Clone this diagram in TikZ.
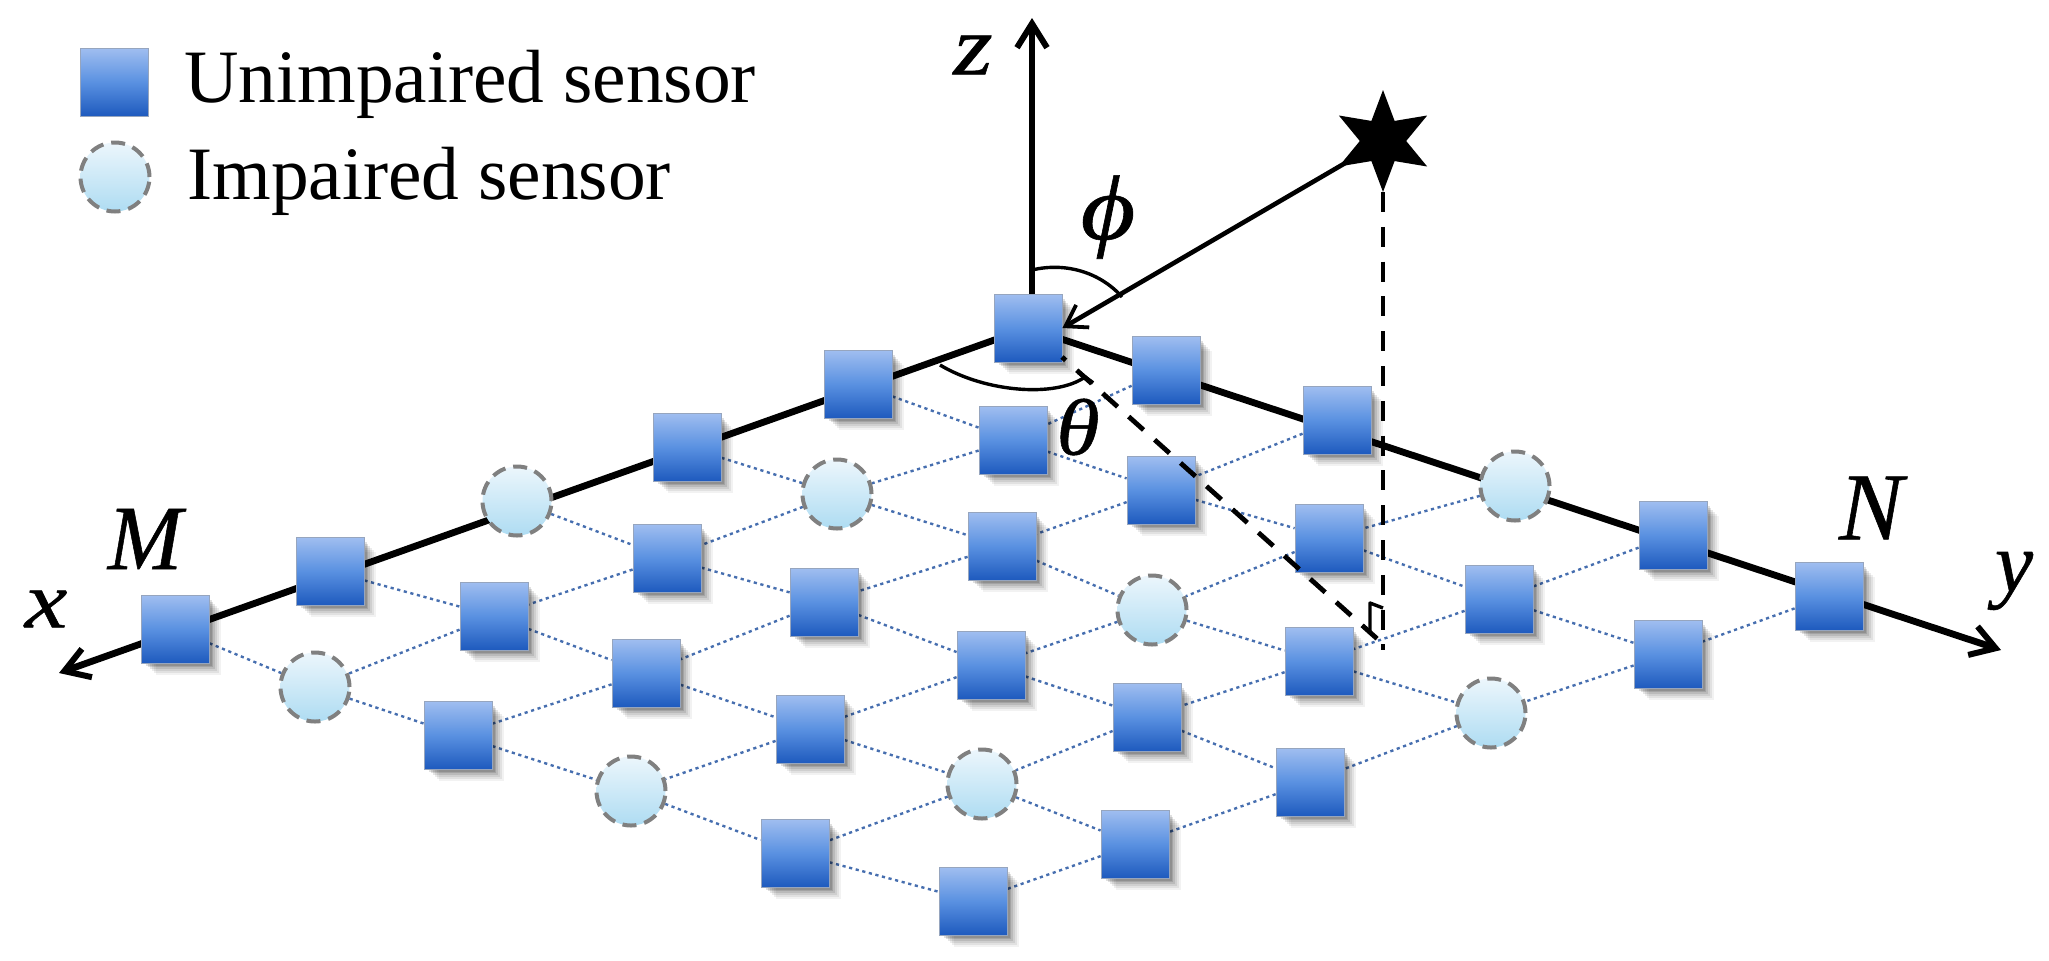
\documentclass[tikz,border=0pt]{standalone}
\usepackage{fontspec}
\setmainfont{Liberation Serif}
\newfontface\mathletter{Liberation Serif Italic}[FakeBold=0.6]
\usetikzlibrary{shapes.geometric,shadows,backgrounds,arrows.meta,calc}
\definecolor{sqtop}{RGB}{160,190,240}
\definecolor{sqmid}{RGB}{90,145,225}
\definecolor{sqbot}{RGB}{30,90,190}
\definecolor{cirtop}{RGB}{236,246,252}
\definecolor{cirbot}{RGB}{174,220,242}
\definecolor{dotblue}{RGB}{70,110,175}
\definecolor{sqedge}{RGB}{150,165,190}
\newcommand{\letterat}[3]{{\fontsize{#1}{#1}\mathletter\scalebox{#2}[1]{#3}}}
\tikzset{
 x=.5pt,y=-.5pt,
 softshadow/.style={
  general shadow={shadow xshift=7pt,shadow yshift=-7pt,fill=black,opacity=.05,shadow scale=.96},
  general shadow={shadow xshift=6pt,shadow yshift=-6pt,fill=black,opacity=.07,shadow scale=.96},
  general shadow={shadow xshift=5pt,shadow yshift=-5pt,fill=black,opacity=.08,shadow scale=.96},
  general shadow={shadow xshift=4pt,shadow yshift=-4pt,fill=black,opacity=.1,shadow scale=.96},
  general shadow={shadow xshift=3pt,shadow yshift=-3pt,fill=black,opacity=.12,shadow scale=.96},
  general shadow={shadow xshift=2pt,shadow yshift=-2pt,fill=black,opacity=.12,shadow scale=.98}},
 sqbase/.style={rectangle,minimum size=34pt,inner sep=0pt,draw=sqedge,line width=.4pt,
   top color=sqtop,bottom color=sqbot,middle color=sqmid},
 sq/.style={sqbase,softshadow},
 ci/.style={circle,minimum size=34.5pt,inner sep=0pt,draw=black!50,line width=2pt,dash pattern=on 7pt off 4pt,
   top color=cirtop,bottom color=cirbot},
 gridline/.style={draw=dotblue,line width=1.2pt,dash pattern=on 1.6pt off 1.8pt},
 axis/.style={line width=3.4pt,-{Straight Barb[length=12pt,width=15pt,line width=3pt]}},
 zaxis/.style={line width=3pt,-{Straight Barb[length=12pt,width=15pt,line width=3pt]}},
 ray/.style={line width=2.3pt,-{Straight Barb[length=10pt,width=13pt,line width=1.9pt]}},
 proj/.style={line width=2.4pt,dash pattern=on 10pt off 7.4pt},
 thin arc/.style={line width=1.7pt},
 lab/.style={inner sep=0pt},
 legtext/.style={inner sep=0pt,anchor=base west,font=\fontsize{37.7}{40}\selectfont},
}
\begin{document}
\begin{tikzpicture}
\useasboundingbox (0,0) rectangle (2049,960);
\foreach \r/\c/\px/\py/\k in {
0/0/1028/328/sq,0/1/858/384/sq,0/2/687/447/sq,0/3/517/501/ci,0/4/330/571/sq,0/5/175/629/sq,
1/0/1166/370/sq,1/1/1013/440/sq,1/2/837/494/ci,1/3/667/558/sq,1/4/494/616/sq,1/5/315/687/ci,
2/0/1337/420/sq,2/1/1161/490/sq,2/2/1002/546/sq,2/3/824/602/sq,2/4/646/673/sq,2/5/458/735/sq,
3/0/1515/486/ci,3/1/1329/538/sq,3/2/1152/610/ci,3/3/991/665/sq,3/4/810/729/sq,3/5/631/791/ci,
4/0/1673/535/sq,4/1/1499/599/sq,4/2/1319/661/sq,4/3/1147/717/sq,4/4/982/784/ci,4/5/795/853/sq,
5/0/1829/596/sq,5/1/1668/654/sq,5/2/1491/713/ci,5/3/1310/782/sq,5/4/1135/844/sq,5/5/973/901/sq}
 \node[\k] (n\r\c) at (\px,\py) {};
\coordinate (xtip) at (59,673);
\coordinate (ytip) at (2001,650);
\coordinate (ztip) at (1032,18);
\coordinate (foot) at (1383,650);
\coordinate (dstart) at (1062,357);
\coordinate (dend) at (1383,644);
\coordinate (vstart) at (1383,192);
\begin{scope}[on background layer]
 \foreach \r in {1,...,5}{\foreach \c [evaluate=\c as \d using int(\c+1)] in {0,...,4}{
   \draw[gridline] (n\r\c) -- (n\r\d);}}
 \foreach \c in {1,...,5}{\foreach \r [evaluate=\r as \s using int(\r+1)] in {0,...,4}{
   \draw[gridline] (n\r\c) -- (n\s\c);}}
 \draw[axis] (n00.center) -- (xtip);
 \draw[axis] (n00.center) -- (ytip);
 \draw[zaxis] (n00.center -| ztip) -- (ztip);
\end{scope}
\node[star,star points=6,star point ratio=2.2,minimum size=51pt,inner sep=0pt,fill=black,draw=none] (star) at (1383,141) {};
\draw[ray] (star.center) -- (n00.east);
\draw[proj] (vstart) -- (foot);
\draw[proj,dash phase=7.5pt] (dstart) -- (dend);
\draw[thin arc,line join=round] (1370,633) -- (1370,603) -- (1383,608);
\draw[thin arc] (1032,270) .. controls (1065,262) and (1100,272) .. (1122,297);
\draw[thin arc] (940,365) .. controls (985,392) and (1055,398) .. (1085,377);
\draw[thin arc,line width=2pt] (1078,372) -- (1093,383);
\node[lab] (lz) at (973,55) {\letterat{42}{1.2}{z}};
\node[lab] (lphi) at (1108,217) {\letterat{46}{1.15}{ϕ}};
\node[lab] (ltheta) at (1078,427) {\letterat{40}{1.1}{θ}};
\node[lab] (lM) at (145,539) {\letterat{46}{.97}{M}};
\node[lab] (lN) at (1871,508) {\letterat{48}{1}{N}};
\node[lab] (lx) at (46,609) {\letterat{40}{1.2}{x}};
\node[lab] (ly) at (2014,581) {\letterat{43}{1}{y}};
\node[sqbase] (legs) at (114,82) {};
\node[ci] (legc) at (115,177) {};
\node[legtext] (legst) at (184,102) {Unimpaired sensor};
\node[legtext] (legct) at (187,199) {Impaired sensor};
\end{tikzpicture}
\end{document}
